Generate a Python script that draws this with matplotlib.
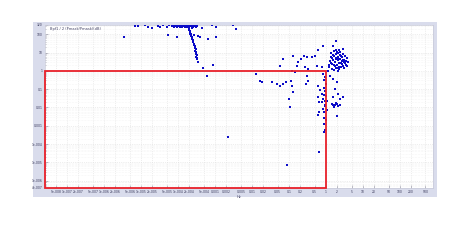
import numpy as np
import matplotlib
matplotlib.use('Agg')
import matplotlib.pyplot as plt
from matplotlib.patches import Rectangle
from matplotlib.ticker import FixedLocator, FuncFormatter, LogLocator, NullFormatter

# limiti degli assi (scala logaritmica su entrambi)
x_lim = [2.5e-8, 800]
y_lim = [4e-7, 320]

# punti sparsi in alto a sinistra
top_x = [3.5e-6, 6.9e-6, 8.3e-6, 1.3e-5, 1.5e-5, 2.0e-5, 2.9e-5, 3.3e-5, 3.9e-5, 5.0e-5,
         5.7e-5, 5.4e-5, 9.4e-5, 4.5e-4, 8.3e-4, 1.1e-3, 3.1e-3, 3.7e-3, 6.5e-4, 1.07e-3,
         4.7e-4, 8.9e-4, 6.1e-4, 2.1e-4, 2.7e-4, 3.5e-4, 3.9e-4]
top_y = [72, 300, 290, 310, 250, 224, 290, 250, 310, 250,
         320, 93, 72, 224, 310, 250, 310, 198, 56, 72,
         1.46, 2.1, 0.53, 105, 93, 82, 72]

# gruppo denso lungo il bordo superiore
dense_x = [7e-5, 7.5e-5, 8e-5, 8.5e-5, 9e-5, 1.0e-4, 1.05e-4, 1.1e-4, 1.2e-4, 1.25e-4,
           1.3e-4, 1.4e-4, 1.5e-4, 1.6e-4, 1.7e-4, 1.8e-4, 1.9e-4, 2.0e-4, 2.1e-4, 2.2e-4,
           2.3e-4, 2.4e-4, 2.5e-4, 2.6e-4, 2.8e-4, 3.0e-4, 3.2e-4, 1.15e-4, 1.35e-4, 1.55e-4,
           1.75e-4, 1.95e-4, 2.15e-4, 2.45e-4, 2.7e-4, 9.5e-5, 1.45e-4, 1.65e-4, 2.05e-4, 2.35e-4]
dense_y = [280, 300, 260, 310, 290, 270, 300, 250, 280, 310,
           260, 290, 270, 300, 250, 280, 310, 260, 290, 270,
           300, 250, 280, 260, 300, 240, 270, 320, 315, 240,
           235, 230, 320, 230, 310, 240, 320, 300, 310, 295]

# scia che scende dal gruppo denso
streak_x = [1.86e-4, 1.95e-4, 2.0e-4, 2.1e-4, 2.1e-4, 2.2e-4, 2.24e-4, 2.35e-4, 2.4e-4, 2.5e-4,
            2.6e-4, 2.7e-4, 2.7e-4, 2.8e-4, 2.9e-4, 3.0e-4, 2.9e-4, 3.05e-4, 3.1e-4, 3.2e-4,
            3.1e-4, 3.2e-4, 3.3e-4, 3.4e-4]
streak_y = [250, 210, 174, 150, 119, 100, 82, 68, 56, 46,
            38, 31, 26, 22, 18, 15, 12.4, 10.5, 8.5, 7.0,
            5.8, 5.0, 4.5, 3.1]

# nuvola densa a destra
core_x = [1.15, 1.2, 1.3, 1.35, 1.4, 1.5, 1.5, 1.55, 1.6, 1.65,
          1.7, 1.75, 1.8, 1.85, 1.9, 1.95, 2.0, 2.05, 2.1, 2.15,
          2.2, 2.25, 2.3, 2.4, 2.45, 2.5, 2.6, 2.7, 2.75, 2.8,
          2.9, 3.0, 3.1, 3.2, 3.3, 3.5, 3.6, 3.8, 1.25, 1.45,
          1.65, 1.85, 2.1, 2.35, 2.55, 2.85, 3.05, 3.4, 1.9, 2.2,
          2.6, 1.7, 2.0, 2.3, 1.4, 3.7, 3.9]
core_y = [1.0, 2.0, 3.5, 6, 10, 1.3, 2.5, 4, 7, 12,
          1.1, 1.8, 3, 5, 8.5, 14, 1.5, 2.2, 3.8, 6,
          9, 1.2, 2.8, 4.5, 7, 11, 1.6, 2.4, 3.3, 5.5,
          8, 1.9, 2.9, 4, 6.5, 2.2, 3.6, 5, 1.6, 4.8,
          2.0, 1.4, 1.0, 1.7, 2.6, 3.9, 1.4, 2.8, 4.2, 5.2,
          6.2, 6.5, 11, 13, 2.8, 1.8, 3.0]

# punti sparsi attorno alla nuvola e lungo il bordo rosso
side_x = [1.86, 1.55, 2.88, 0.83, 0.61, 0.50, 0.42, 0.31, 0.25, 0.22,
          0.175, 0.165, 0.128, 0.069, 0.057, 0.12, 0.145, 0.27, 0.33, 0.57,
          0.78, 0.0128, 0.0164, 0.0186, 0.035, 0.047, 0.057, 0.069, 0.083, 0.113,
          0.12, 0.128, 0.31, 0.33, 0.29, 0.61, 0.69, 0.78, 0.61, 0.83,
          1.28, 1.55, 1.98, 1.75, 2.1, 1.55, 2.39, 2.88, 0.1, 0.107,
          0.65, 0.78, 0.94, 1.06, 0.94, 0.83, 1.06, 0.65, 0.61, 0.88,
          0.94, 0.88, 0.65, 0.088, 2.2e-3, 1.45, 1.6, 1.8, 2.0, 2.2,
          2.4, 1.7, 1.9, 1.98, 0.85, 0.95, 0.9, 1.0, 0.88, 0.95,
          0.9, 1.02, 0.97, 0.92, 1.0, 0.9]
side_y = [44, 23, 16, 23, 14, 6.6, 5.8, 5.8, 6.6, 4.5,
          3.1, 1.9, 6.6, 4.5, 1.9, 1.0, 0.88, 1.65, 1.29, 1.9,
          1.65, 0.69, 0.28, 0.25, 0.25, 0.195, 0.15, 0.195, 0.25, 0.28,
          0.15, 0.071, 0.53, 0.28, 0.195, 0.15, 0.091, 0.055, 0.038, 0.03,
          0.53, 0.37, 0.25, 0.104, 0.055, 0.038, 0.03, 0.038, 0.03, 0.0108,
          0.020, 0.020, 0.023, 0.023, 0.014, 0.0084, 0.0074, 0.0057, 0.0040, 0.0027,
          6.0e-4, 4.7e-4, 3.7e-5, 7.3e-6, 2.5e-4, 0.016, 0.014, 0.013, 0.015, 0.012,
          0.014, 0.011, 0.017, 0.0035, 0.7, 0.45, 0.3, 0.2, 0.12, 0.08,
          0.05, 0.04, 0.012, 0.006, 0.002, 0.0012]

x_tick_vals = [m * 10.0 ** e for e in range(-8, 3) for m in (1, 2, 5)]
y_tick_vals = [10.0 ** e for e in range(-6, 3)]

titolo = 'Bpf1 / 2 (Pmask/Pmask)(dB)'
x_label = 'Hz'


def formatta(v, pos=None):
    # stile delle etichette come nel programma originale
    if v >= 0.001:
        return '%g' % v
    mant, esp = ('%.0e' % v).split('e')
    return '%se-%03d' % (mant, abs(int(esp)))


fig = plt.figure(figsize=(4.74, 2.52), dpi=100)
# cornice lilla attorno al grafico
fig.patches.append(Rectangle((0.0696, 0.218), 0.853, 0.695, transform=fig.transFigure,
                             facecolor='#d9dcec', edgecolor='none', zorder=-5))
ax = fig.add_axes([0.0949, 0.254, 0.8186, 0.6468])
ax.set_zorder(2)
ax.set_facecolor('white')
ax.set_xscale('log')
ax.set_yscale('log')
ax.set_xlim(x_lim)
ax.set_ylim(y_lim)

ax.xaxis.set_major_locator(FixedLocator(x_tick_vals))
ax.xaxis.set_major_formatter(FuncFormatter(formatta))
ax.xaxis.set_minor_locator(LogLocator(base=10, subs=np.arange(1, 10)))
ax.xaxis.set_minor_formatter(NullFormatter())
ax.yaxis.set_major_locator(FixedLocator(y_tick_vals + y_lim))
ax.yaxis.set_major_formatter(FuncFormatter(formatta))
ax.yaxis.set_minor_locator(LogLocator(base=10, subs=np.arange(2, 10)))
ax.yaxis.set_minor_formatter(NullFormatter())

ax.tick_params(which='both', direction='in', labelsize=2.2, labelcolor='#333355',
               color='#888899', length=2, width=0.4, pad=1.5)
ax.tick_params(which='minor', length=1)
ax.grid(which='major', color='#dddddd', lw=0.5, ls=':')
ax.grid(which='minor', color='#eeeeee', lw=0.4, ls=':')
for s in ax.spines.values():
    s.set_color('#c8cad8')
    s.set_linewidth(0.5)

tutti_x = top_x + dense_x + streak_x + core_x + side_x
tutti_y = top_y + dense_y + streak_y + core_y + side_y
ax.plot(tutti_x, tutti_y, ls='none', marker='s', ms=1.6, mew=0, color='#0c0cc8', zorder=3)

# rettangolo rosso
ax.add_patch(Rectangle((x_lim[0], y_lim[0]), 1 - x_lim[0], 1 - y_lim[0],
                       fill=False, edgecolor='#e8202a', lw=1.3, zorder=4, clip_on=False))

ax.text(0.012, 0.99, titolo, transform=ax.transAxes, fontsize=2.6, color='#444466',
        va='top', ha='left')
ax.set_xlabel(x_label, fontsize=2.6, color='#444466', labelpad=1)

fig.savefig('out.png', dpi=100)
